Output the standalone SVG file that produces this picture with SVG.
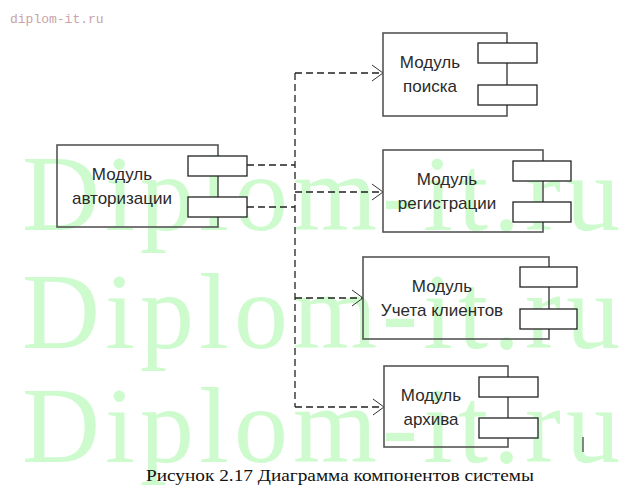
<svg xmlns="http://www.w3.org/2000/svg" width="633" height="496" viewBox="0 0 633 496">
<style>
.wm{font-family:"Liberation Serif","Times New Roman",serif;font-size:108px;fill:#cefbce}
.body{fill:none;stroke:#555;stroke-width:1.6}
.port{fill:#fff;stroke:#222;stroke-width:1.3}
.lbl{font-family:"Liberation Sans",Arial,sans-serif;font-size:17px;fill:#2a2a2a;text-anchor:middle}
.dash{fill:none;stroke:#222;stroke-width:1.3;stroke-dasharray:7 4}
.arr{fill:none;stroke:#333;stroke-width:1}
</style>
<rect width="633" height="496" fill="#fff"/>
<g id="watermark">
<text class="wm" x="22" y="230" textLength="598" lengthAdjust="spacing">Diplom-it.ru</text>
<text class="wm" x="22" y="348" textLength="598" lengthAdjust="spacing">Diplom-it.ru</text>
<text class="wm" x="22" y="462" textLength="598" lengthAdjust="spacing">Diplom-it.ru</text>
<text x="10" y="23" style="font-family:'Liberation Mono','Courier New',monospace;font-size:13px;fill:#c9a3aa">diplom-it.ru</text>
</g>
<g id="connectors">
<path class="dash" d="M247 165H295M247 207H295M295 73V407M295 73H382M295 192H382M295 298H362M295 407H383"/>
<path class="arr" d="M372 65L383 73L372 81M372 184L383 192L372 200M352 290L363 298L352 306M373 399L384 407L373 415"/>
</g>
<g id="auth">
<rect class="body" x="57" y="145" width="161" height="82"/>
<rect class="port" x="188" y="156" width="59" height="20"/>
<rect class="port" x="188" y="197" width="59" height="20"/>
<text class="lbl" x="122" y="180">Модуль</text>
<text class="lbl" x="122" y="204">авторизации</text>
</g>
<g id="search">
<rect class="body" x="383" y="33" width="124" height="83"/>
<rect class="port" x="478" y="43" width="59" height="20"/>
<rect class="port" x="478" y="85" width="59" height="20"/>
<text class="lbl" x="430" y="68">Модуль</text>
<text class="lbl" x="430" y="92">поиска</text>
</g>
<g id="registration">
<rect class="body" x="383" y="150" width="160" height="82"/>
<rect class="port" x="513" y="161" width="58" height="20"/>
<rect class="port" x="513" y="202" width="58" height="20"/>
<text class="lbl" x="447" y="185">Модуль</text>
<text class="lbl" x="447" y="209">регистрации</text>
</g>
<g id="clients">
<rect class="body" x="363" y="257" width="186" height="82"/>
<rect class="port" x="520" y="267" width="57" height="20"/>
<rect class="port" x="520" y="309" width="57" height="20"/>
<text class="lbl" x="442" y="292">Модуль</text>
<text class="lbl" x="442" y="316">Учета клиентов</text>
</g>
<g id="archive">
<rect class="body" x="384" y="366" width="124" height="81"/>
<rect class="port" x="479" y="377" width="59" height="20"/>
<rect class="port" x="479" y="418" width="59" height="20"/>
<text class="lbl" x="431" y="401">Модуль</text>
<text class="lbl" x="431" y="425">архива</text>
</g>
<line x1="583" y1="437" x2="583" y2="452" stroke="#444" stroke-width="1.3"/>
<text x="146" y="481" textLength="388" lengthAdjust="spacingAndGlyphs" style="font-family:'Liberation Serif','Times New Roman',serif;font-size:17px;fill:#111">Рисунок 2.17 Диаграмма компонентов системы</text>
</svg>
